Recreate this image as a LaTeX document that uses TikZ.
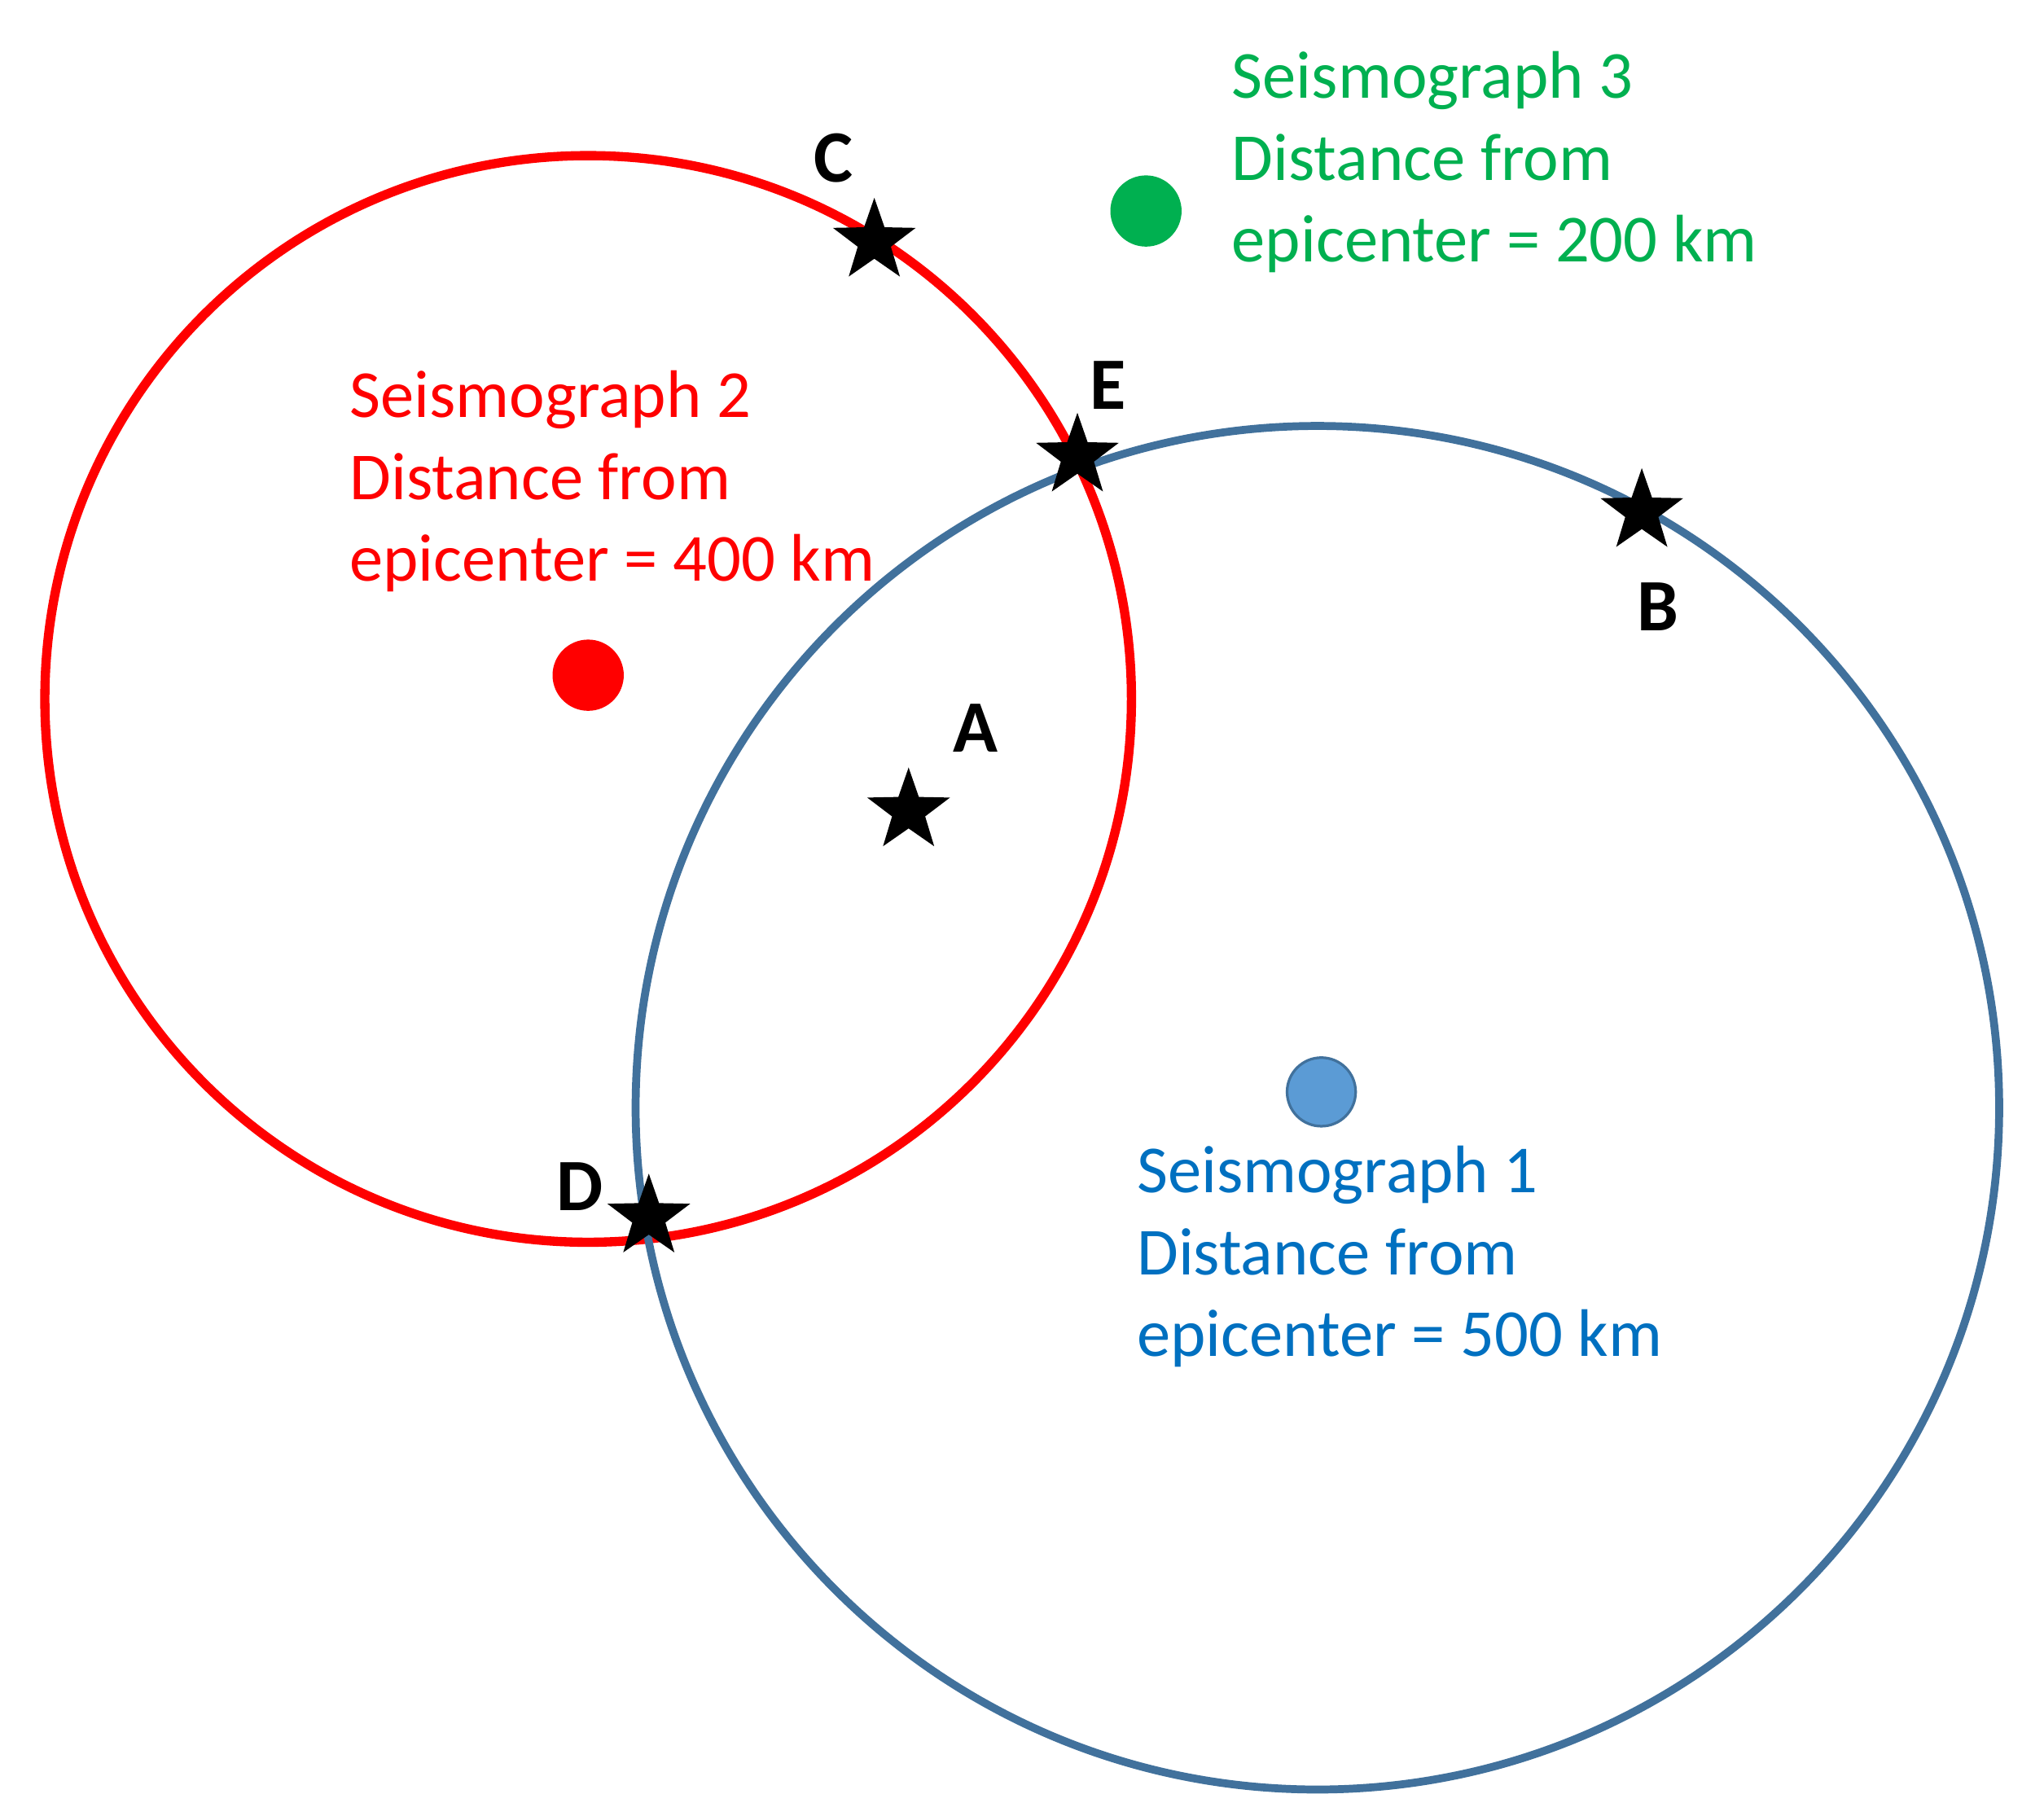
\documentclass[tikz,border=0pt]{standalone}
\usepackage{fontspec}
\setmainfont{Carlito}
\usetikzlibrary{shapes.geometric}
\definecolor{sred}{HTML}{FF0000}
\definecolor{sblue}{HTML}{41719C}
\definecolor{sbluefill}{HTML}{5B9BD5}
\definecolor{sbluetext}{HTML}{0070C0}
\definecolor{sgreen}{HTML}{00B050}
\begin{document}
\begin{tikzpicture}[x=1pt,y=-1pt,
  starmark/.style={star,star points=5,star point ratio=2.5,fill=black,inner sep=0pt,minimum size=66pt},
  lab/.style={font=\fontsize{56}{64}\selectfont\bfseries,inner sep=0pt},
  info/.style={font=\fontsize{51}{62}\selectfont,align=left,anchor=north west,inner sep=0pt}]
\useasboundingbox (0,0) rectangle (1550,1377);
\draw[sred,line width=7pt] (446,530) circle[radius=412];
\draw[sblue,line width=6pt] (999,840) circle[radius=517];
\fill[sred] (446,512) circle[radius=27];
\filldraw[fill=sbluefill,draw=sblue,line width=2pt] (1002,828) circle[radius=26];
\fill[sgreen] (869,160) circle[radius=27];
\node[starmark] (C) at (663,183) {};
\node[starmark] (E) at (817,346) {};
\node[starmark] (B) at (1245,388) {};
\node[starmark] (A) at (689,615) {};
\node[starmark] (D) at (492,923) {};
\node[lab] at (632,120) {C};
\node[lab] at (840,292) {E};
\node[lab] at (1257,460) {B};
\node[lab] at (740,552) {A};
\node[lab] at (440,900) {D};
\node[info,text=sred] (t2) at (265,281) {Seismograph 2\\Distance from\\epicenter = 400 km};
\node[info,text=sgreen] (t3) at (934,39) {Seismograph 3\\Distance from\\epicenter = 200 km};
\node[info,text=sbluetext] (t1) at (862,869) {Seismograph 1\\Distance from\\epicenter = 500 km};
\end{tikzpicture}
\end{document}
